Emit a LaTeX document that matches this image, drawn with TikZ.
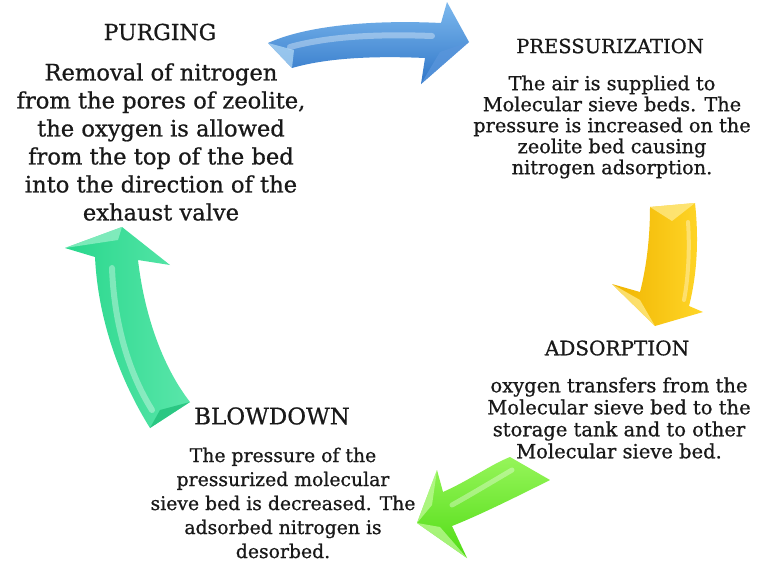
\documentclass[tikz,border=0pt]{standalone}
\usepackage{fontspec}
\setmainfont{DejaVu Serif}[FakeBold=0.8]
\definecolor{blueL}{RGB}{125,185,238}
\definecolor{blueD}{RGB}{48,118,200}
\definecolor{blueF}{RGB}{175,215,245}
\definecolor{blueM}{RGB}{90,150,220}
\definecolor{yelD}{RGB}{240,180,0}
\definecolor{yelL}{RGB}{255,214,40}
\definecolor{yelF}{RGB}{255,235,140}
\definecolor{grnL}{RGB}{150,245,90}
\definecolor{grnD}{RGB}{80,220,20}
\definecolor{grnF}{RGB}{190,250,150}
\definecolor{tealD}{RGB}{40,215,140}
\definecolor{tealL}{RGB}{90,230,170}
\definecolor{tealF}{RGB}{150,240,200}
\definecolor{tealS}{RGB}{30,190,120}
\begin{document}
\begin{tikzpicture}[x=1pt,y=-1pt,
  headtxt/.style={inner sep=0pt, text=black!90},
  bodytxt/.style={inner sep=0pt, align=center, text=black!90},
  hilite/.style={white, opacity=.35, line cap=round},
  facet/.style={opacity=.75}]
\useasboundingbox (0,0) rectangle (781,570);
\fill[white] (0,0) rectangle (781,570);

% ---------- blue arrow (purging -> pressurization)
\shade[top color=blueL, bottom color=blueD]
  (268,43) -- (292,68) .. controls (330,57) and (380,56) .. (425,58) -- (421,84) -- (469,42) -- (447,2) -- (441,23)
  .. controls (380,20) and (310,24) .. (268,43) -- cycle;
\draw[hilite, line width=6pt] (290,47) .. controls (330,36) and (380,34) .. (432,36);
\fill[facet, fill=blueF] (268,43) -- (292,68) -- (294,50) -- cycle;
\fill[facet, fill=blueM] (469,42) -- (421,84) -- (440,52) -- cycle;

% ---------- yellow arrow (pressurization -> adsorption)
\shade[left color=yelD, right color=yelL]
  (650,207) -- (695,203) .. controls (699,240) and (697,275) .. (689,306) -- (703,312) -- (655,326) -- (612,284) -- (640,292)
  .. controls (647,265) and (650,235) .. (650,207) -- cycle;
\fill[facet, fill=yelF] (650,207) -- (695,203) -- (672,221) -- cycle;
\draw[hilite, line width=4pt] (688,222) .. controls (690,250) and (688,280) .. (684,300);
\fill[facet, fill=yelF] (612,284) -- (655,326) -- (640,300) -- cycle;

% ---------- green arrow (adsorption -> blowdown)
\shade[top color=grnL, bottom color=grnD]
  (510,457) -- (550,480) .. controls (520,495) and (480,515) .. (452,526) -- (467,558) -- (417,523) -- (437,470) -- (443,492)
  .. controls (470,480) and (490,465) .. (510,457) -- cycle;
\draw[hilite, line width=5pt] (512,470) .. controls (495,480) and (470,495) .. (452,505);
\fill[facet, fill=grnF] (417,523) -- (467,558) -- (440,527) -- cycle;
\fill[facet, fill=grnF] (417,523) -- (437,470) -- (432,505) -- cycle;

% ---------- teal arrow (blowdown -> purging)
\shade[left color=tealD, right color=tealL]
  (150,428) -- (190,402) .. controls (165,370) and (145,320) .. (138,260) -- (170,265) -- (122,227) -- (65,248) -- (95,257)
  .. controls (98,320) and (120,380) .. (150,428) -- cycle;
\draw[hilite, line width=6pt] (112,268) .. controls (114,320) and (127,370) .. (152,410);
\fill[facet, fill=tealF] (122,227) -- (65,248) -- (118,240) -- cycle;
\fill[facet, fill=tealS] (150,428) -- (190,402) -- (160,410) -- cycle;

% ---------- texts
\node[headtxt, font=\fontsize{22}{24}\selectfont] (purgeh) at (160,32) {PURGING};
\node[bodytxt, font=\fontsize{22.6}{28}\selectfont] (purgeb) at (161,142)
  {Removal of nitrogen\\from the pores of zeolite,\\the oxygen is allowed\\from the top of the bed\\into the direction of the\\exhaust valve};

\node[headtxt, font=\fontsize{19.5}{22}\selectfont] (pressh) at (610,46) {PRESSURIZATION};
\node[bodytxt, font=\fontsize{19.3}{21}\selectfont] (pressb) at (612,127)
  {The air is supplied to\\Molecular sieve beds. The\\pressure is increased on the\\zeolite bed causing\\nitrogen adsorption.};

\node[headtxt, font=\fontsize{20}{22}\selectfont] (adsh) at (617,348) {ADSORPTION};
\node[bodytxt, font=\fontsize{19.5}{22}\selectfont] (adsb) at (619,418)
  {oxygen transfers from the\\Molecular sieve bed to the\\storage tank and to other\\Molecular sieve bed.};

\node[headtxt, font=\fontsize{23}{25}\selectfont] (blowh) at (272,416) {BLOWDOWN};
\node[bodytxt, font=\fontsize{18.8}{24}\selectfont] (blowb) at (283,503)
  {The pressure of the\\pressurized molecular\\sieve bed is decreased. The\\adsorbed nitrogen is\\desorbed.};
\end{tikzpicture}
\end{document}
